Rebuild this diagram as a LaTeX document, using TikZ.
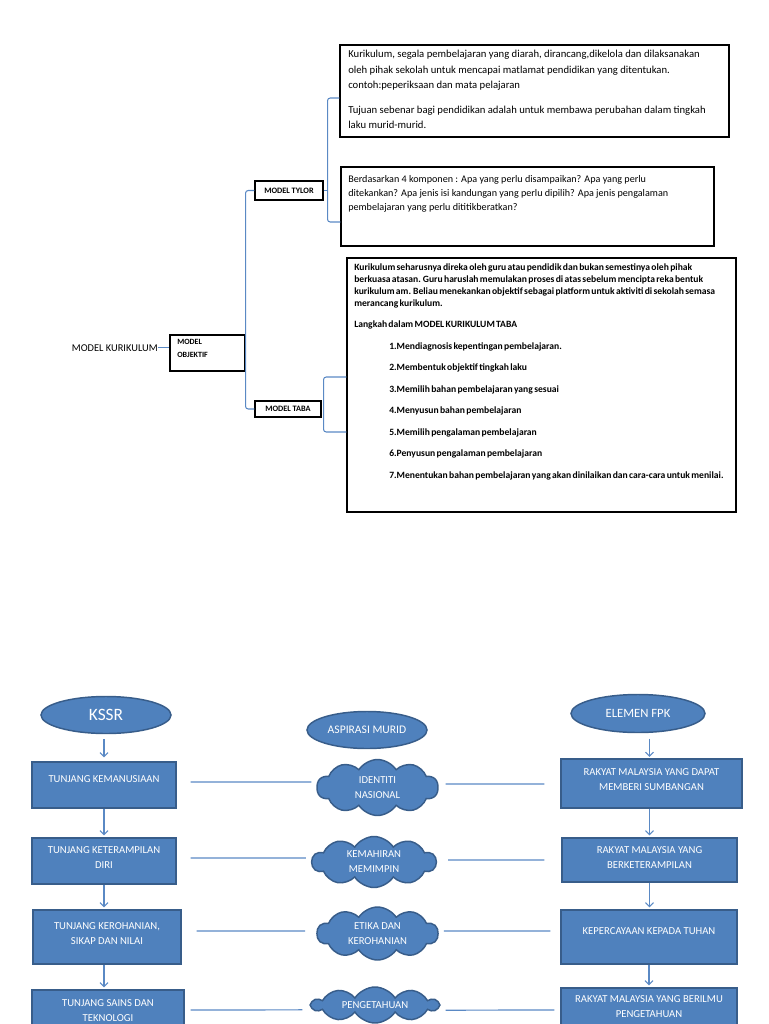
\documentclass[tikz,border=0pt]{standalone}
\usepackage{fontspec}
\setmainfont{Carlito}
\usetikzlibrary{shapes.geometric,shapes.symbols,arrows.meta,calc}
\definecolor{fillb}{HTML}{4F81BD}
\definecolor{edgeb}{HTML}{385D8A}
\definecolor{connb}{HTML}{5A89C4}
\newcommand{\fs}[2]{\fontsize{#1}{#2}\selectfont}
\newcommand{\tightbold}{\fontsize{7.2}{8}\selectfont\bfseries\spaceskip=1.0pt plus 0.1pt\relax}
\begin{document}
\begin{tikzpicture}[x=0.75pt,y=-0.75pt,
  sz/.style 2 args={minimum width={#1*0.75pt},minimum height={#2*0.75pt}},
  wbox/.style={draw=black,line width=0.8pt,inner sep=0pt},
  lbox/.style={draw=black,line width=0.8pt,inner sep=0pt,font=\fs{6.2}{7}\bfseries},
  conn/.style={draw=connb,line width=0.8pt,rounded corners=2pt},
  ta/.style={anchor=base west,inner sep=0pt,font=\fs{8}{9}},
  tb/.style={anchor=base west,inner sep=0pt,font=\fs{7.6}{9}},
  tc/.style={anchor=base west,inner sep=0pt,font=\tightbold},
  bbox/.style={draw=edgeb,fill=fillb,line width=1.1pt,inner sep=0pt},
  btxt/.style={text=white,align=center,inner sep=0pt,font=\fs{8}{11.25}},
  ell/.style={ellipse,draw=edgeb,fill=fillb,line width=1.1pt,text=white,inner sep=0pt},
  cld/.style={cloud,cloud puffs=10,cloud puff arc=115,cloud ignores aspect,draw=edgeb,fill=fillb,line width=1.1pt,text=white,align=center,inner sep=0pt,font=\fs{8}{11.25}},
  arr/.style={draw=connb,line width=0.8pt,-{Straight Barb[length=3pt,width=6pt]}},
  hl/.style={draw=connb,line width=0.9pt}]
\useasboundingbox (0,0) rectangle (768,1024);

% ---------- top part ----------
\node[wbox,sz={389}{92}] (box1) at (534.5,91) {};
\node[wbox,sz={373}{79}] (box2) at (527.5,206.5) {};
\node[wbox,sz={389}{254}] (box3) at (541.5,385) {};
\node[lbox,sz={68}{19}] (tylor) at (289,190.5) {MODEL TYLOR};
\node[lbox,sz={66}{16}] (taba) at (288,409) {MODEL TABA};
\node[wbox,sz={75}{36}] (objektif) at (207.5,353) {};
\node[anchor=north west,align=left,inner sep=0pt,font=\fs{6}{9.5}\bfseries] (objt) at (177,339) {MODEL\\OBJEKTIF};
\node[anchor=base east,inner sep=0pt,font=\fs{7.8}{9}] (kur) at (158,351) {MODEL KURIKULUM};

\foreach \yy/\txt [count=\i] in {
  58/{Kurikulum, segala pembelajaran yang diarah, dirancang,dikelola dan dilaksanakan},
  74/{oleh pihak sekolah untuk mencapai matlamat pendidikan yang ditentukan.},
  89/{contoh:peperiksaan dan mata pelajaran},
  113.5/{Tujuan sebenar bagi pendidikan adalah untuk membawa perubahan dalam tingkah},
  128/{laku murid-murid.}}
  \node[ta] (ba\i) at (348,\yy) {\txt};

\foreach \yy/\txt [count=\i] in {
  182/{Berdasarkan 4 komponen : Apa yang perlu disampaikan? Apa yang perlu},
  196/{ditekankan? Apa jenis isi kandungan yang perlu dipilih? Apa jenis pengalaman},
  210/{pembelajaran yang perlu dititikberatkan?}}
  \node[tb] (bb\i) at (348,\yy) {\txt};

\foreach \yy/\txt [count=\i] in {
  270/{Kurikulum seharusnya direka oleh guru atau pendidik dan bukan semestinya oleh pihak},
  282/{berkuasa atasan. Guru haruslah memulakan proses di atas sebelum mencipta reka bentuk},
  294/{kurikulum am. Beliau menekankan objektif sebagai platform untuk aktiviti di sekolah semasa},
  306/{merancang kurikulum.},
  327/{Langkah dalam MODEL KURIKULUM TABA}}
  \node[tc] (bc\i) at (354,\yy) {\txt};

\foreach \yy/\txt [count=\i] in {
  349/{1.Mendiagnosis kepentingan pembelajaran.},
  370/{2.Membentuk objektif tingkah laku},
  392/{3.Memilih bahan pembelajaran yang sesuai},
  413/{4.Menyusun bahan pembelajaran},
  435/{5.Memilih pengalaman pembelajaran},
  456/{6.Penyusun pengalaman pembelajaran},
  478/{7.Menentukan bahan pembelajaran yang akan dinilaikan dan cara-cara untuk menilai.}}
  \node[tc] (bd\i) at (389,\yy) {\txt};

\draw[conn] (kur.east) -- (kur.east -| objektif.west);
\draw[conn] (tylor.west) -| (objektif.east) |- (taba.west);
\draw[conn] ($(box1.west)+(0,7)$) -| ($(tylor.east)+(4,0)$) |- ($(box2.west)+(0,15.5)$);
\draw[conn] (tylor.east) -- ++(4,0);
\draw[conn] ($(box3.west)+(0,-8)$) -| ($(taba.east)+(2,0)$) |- ($(box3.west)+(0,47)$);

% ---------- bottom part ----------
\node[ell,sz={130}{37},font=\fs{13}{15}] (kssr) at (106,715) {KSSR};
\node[ell,sz={120}{37},font=\fs{8.7}{10}] (asp) at (367,730) {ASPIRASI MURID};
\node[ell,sz={134}{38},font=\fs{9.5}{10}] (fpk) at (638,713.5) {ELEMEN FPK};

\node[bbox,sz={144}{46}] (L1) at (104,785) {};
\node[bbox,sz={144}{46}] (L2) at (104,861) {};
\node[bbox,sz={148}{54}] (L3) at (107,937) {};
\node[bbox,sz={152}{54}] (L4) at (108,1017) {};
\node[bbox,sz={181}{49}] (R1) at (651.5,783.5) {};
\node[bbox,sz={175}{44}] (R2) at (649.5,860) {};
\node[bbox,sz={176}{54}] (R3) at (649,937) {};
\node[bbox,sz={176}{54}] (R4) at (649,1015) {};

\node[btxt] (L1t) at (104,779.5) {TUNJANG KEMANUSIAAN};
\node[btxt] (L2t) at (104,858) {TUNJANG KETERAMPILAN\\DIRI};
\node[btxt] (L3t) at (107,933.5) {TUNJANG KEROHANIAN,\\SIKAP DAN NILAI};
\node[btxt] (L4t) at (108,1011) {TUNJANG SAINS DAN\\TEKNOLOGI};
\node[btxt] (R1t) at (651.5,779.5) {RAKYAT MALAYSIA YANG DAPAT\\MEMBERI SUMBANGAN};
\node[btxt] (R2t) at (649.5,857.5) {RAKYAT MALAYSIA YANG\\BERKETERAMPILAN};
\node[btxt] (R3t) at (649,931) {KEPERCAYAAN KEPADA TUHAN};
\node[btxt] (R4t) at (649,1006.5) {RAKYAT MALAYSIA YANG BERILMU\\PENGETAHUAN};

\node[cld,sz={121}{56}] (C1) at (377.5,787.5) {IDENTITI\\NASIONAL};
\node[cld,sz={124}{51}] (C2) at (374,862) {KEMAHIRAN\\MEMIMPIN};
\node[cld,sz={121}{53}] (C3) at (377.5,933.5) {ETIKA DAN\\KEROHANIAN};
\node[cld,sz={126}{36}] (C4) at (375,1005) {PENGETAHUAN};

\draw[arr,shorten <=3.75pt,shorten >=3pt] (kssr.south -| L1.north) -- (L1.north);
\draw[arr,shorten >=1.5pt] (L1.south) -- (L2.north);
\draw[arr,shorten >=1.5pt] (L2.south) -- (L2.south |- L3.north);
\draw[arr,shorten >=1.5pt] (L3.south -| L2.south) -- (L2.south |- L4.north);
\draw[arr,shorten <=4pt,shorten >=1pt] (fpk.south -| R2.north) -- (R2.north |- R1.north);
\draw[arr,shorten >=1.5pt] (R1.south -| R2.north) -- (R2.north);
\draw[arr,shorten >=1.5pt] (R2.south) -- (R2.south |- R3.north);
\draw[arr,shorten >=1.5pt] (R3.south) -- (R4.north);

\draw[hl] ($(L1.east)+(14,-3)$) -- ($(C1.west)+(-5,-5.5)$);
\draw[hl] ($(C1.east)+(7,-3.5)$) -- ($(R1.west)+(-16,0.5)$);
\draw[hl] ($(L2.east)+(14,-3)$) -- ($(C2.west)+(-5,-4)$);
\draw[hl] ($(C2.east)+(11,-2)$) -- ($(R2.west)+(-17,0)$);
\draw[hl] ($(L3.east)+(15,-6)$) -- ($(C3.west)+(-11,-2.5)$);
\draw[hl] ($(C3.east)+(5,-2.5)$) -- ($(R3.west)+(-10,-6)$);
\draw[hl] ($(L4.east)+(6,-7)$) -- ($(C4.west)+(-7,5)$);
\draw[hl] ($(C4.east)+(5,5)$) -- ($(R4.west)+(-6,-5)$);
\end{tikzpicture}
\end{document}
